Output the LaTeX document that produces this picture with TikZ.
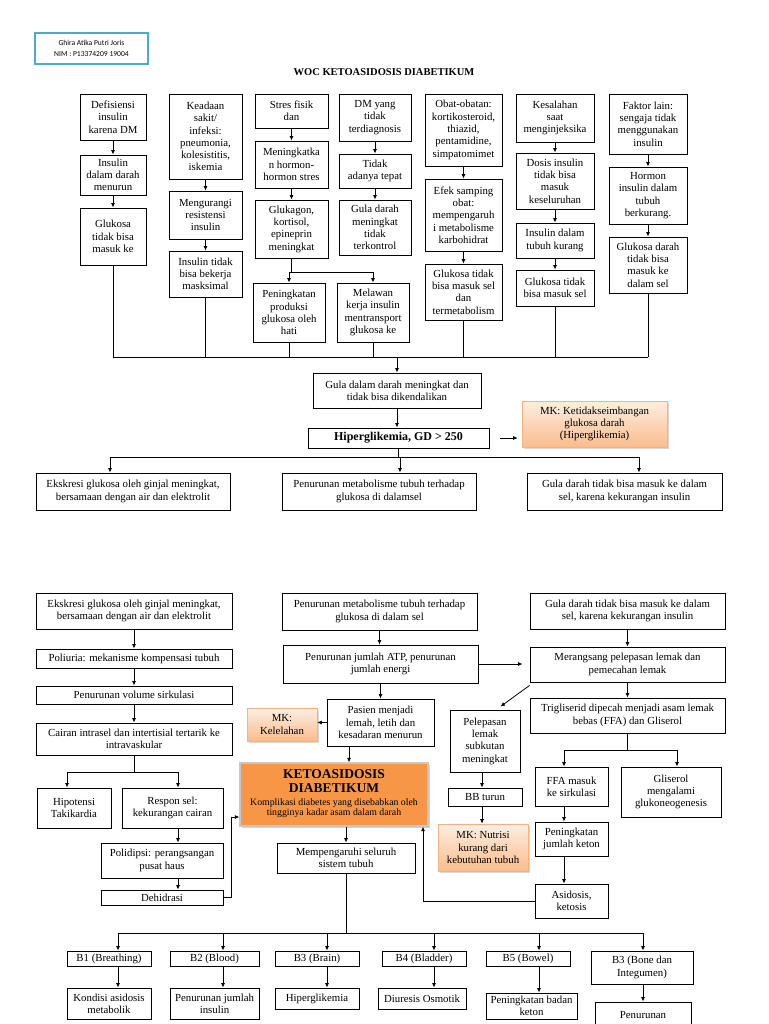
\documentclass[tikz,border=0pt]{standalone}
\usepackage{fontspec}
\setmainfont{Liberation Serif}
\newfontfamily\hdrfont{Carlito}
\usetikzlibrary{arrows.meta,shadows,calc}
\definecolor{keto}{HTML}{F79646}
\definecolor{mktop}{HTML}{FDEEE2}
\definecolor{mkbot}{HTML}{F9BD8C}
\definecolor{mkline}{HTML}{F3B27F}
\definecolor{hdrblue}{HTML}{4BACC6}
\newcommand\fsz{\fontsize{10.8}{12.3}\selectfont}
\newcommand\ktit{\fontsize{13.5}{14}\bfseries\selectfont}
\newcommand\ksub{\fontsize{9.8}{11}\mdseries\selectfont}
\newcommand\bx[7][]{%
  \pgfmathsetmacro\bxw{#5-#3}\pgfmathsetmacro\bxh{#6-#4}%
  \pgfmathsetmacro\bxcx{(#3+#5)/2}\pgfmathsetmacro\bxcy{(#4+#6)/2}%
  \node[box,minimum width=\bxw pt,minimum height=\bxh pt,#1] (#2) at (\bxcx,\bxcy) {#7};}
\begin{document}
\begin{tikzpicture}[x=1pt,y=-1pt,
  box/.style={draw,line width=0.9pt,fill=white,align=center,inner sep=0pt,font=\fsz},
  mk/.style={draw=mkline,line width=0.6pt,top color=mktop,bottom color=mkbot,
    drop shadow={shadow xshift=1.5pt,shadow yshift=-1.5pt,fill=black!30}},
  arr/.style={-{Latex[length=4.5pt,width=4pt]},line width=0.8pt},
  ln/.style={line width=0.8pt}]
\fill[white] (0,0) rectangle (768,1024);
\useasboundingbox (0,0) rectangle (768,1024);

% header
\node[draw=hdrblue,line width=1.4pt,minimum width=113pt,minimum height=31pt,inner sep=0pt,
  font=\hdrfont\fontsize{7.6}{11}\selectfont,align=center] (hdr) at (91.5,48.5)
  {Ghira Atika Putri Joris\\NIM : P13374209 19004};
\node[font=\bfseries\fontsize{10.5}{12}\selectfont] (title) at (384,72) {WOC KETOASIDOSIS DIABETIKUM};

% top row
\bx{a1}{80}{94}{146}{140}{Defisiensi\\insulin\\karena DM}
\bx{a2}{80}{155}{146}{195}{Insulin\\dalam darah\\menurun}
\bx{a3}{80}{208}{146}{265}{Glukosa\\tidak bisa\\masuk ke}

\bx{b1}{169}{94}{242}{179}{Keadaan\\sakit/\\infeksi:\\pneumonia,\\kolesistitis,\\iskemia}
\bx{b2}{169}{191}{242}{239}{Mengurangi\\resistensi\\insulin}
\bx{b3}{169}{251}{242}{297}{Insulin tidak\\bisa bekerja\\masksimal}

\bx{c1}{255}{94}{328}{128}{Stres fisik\\dan}
\bx{c2}{255}{141}{328}{188}{Meningkatka\\n hormon-\\hormon stres}
\bx{c3}{255}{200}{328}{258}{Glukagon,\\kortisol,\\epineprin\\meningkat}
\bx{c4}{253}{283}{325}{342}{Peningkatan\\produksi\\glukosa oleh\\hati}
\bx{c5}{337}{283}{409}{342}{Melawan\\kerja insulin\\mentransport\\glukosa ke}

\bx{d1}{339}{94}{411}{141}{DM yang\\tidak\\terdiagnosis}
\bx{d2}{339}{154}{411}{188}{Tidak\\adanya tepat}
\bx{d3}{339}{200}{411}{255}{Gula darah\\meningkat\\tidak\\terkontrol}

\bx{e1}{425}{94}{502}{166}{Obat-obatan:\\kortikosteroid,\\thiazid,\\pentamidine,\\simpatomimet}
\bx{e2}{425}{179}{502}{251}{Efek samping\\obat:\\mempengaruh\\i metabolisme\\karbohidrat}
\bx{e3}{425}{264}{502}{320}{Glukosa tidak\\bisa masuk sel\\dan\\termetabolism}

\bx{f1}{516}{94}{594}{142}{Kesalahan\\saat\\menginjeksika}
\bx{f2}{516}{153}{594}{209}{Dosis insulin\\tidak bisa\\masuk\\keseluruhan}
\bx{f3}{516}{223}{594}{258}{Insulin dalam\\tubuh kurang}
\bx{f4}{516}{270}{594}{306}{Glukosa tidak\\bisa masuk sel}

\bx{g1}{609}{94}{687}{154}{Faktor lain:\\sengaja tidak\\menggunakan\\insulin}
\bx{g2}{609}{167}{687}{224}{Hormon\\insulin dalam\\tubuh\\berkurang.}
\bx{g3}{609}{237}{687}{293}{Glukosa darah\\tidak bisa\\masuk ke\\dalam sel}

\foreach \p/\q in {a1/a2,a2/a3,b1/b2,b2/b3,c1/c2,c2/c3,d1/d2,d2/d3,e1/e2,e2/e3,f1/f2,f2/f3,f3/f4,g1/g2,g2/g3}
  \draw[arr] (\p.south) -- (\q.north);

\coordinate (cs) at (0,272);
\draw[ln] (c3.south) -- (c3.south |- cs);
\draw[ln] (c4.north |- cs) -- (c5.north |- cs);
\draw[arr] (c4.north |- cs) -- (c4.north);
\draw[arr] (c5.north |- cs) -- (c5.north);

% collecting line
\bx{h1}{313}{373}{481}{408}{Gula dalam darah meningkat dan\\tidak bisa dikendalikan}
\coordinate (cl) at (0,357);
\foreach \n in {a3,b3,c4,c5,e3,f4,g3} \draw[ln] (\n.south) -- (\n.south |- cl);
\draw[ln] (a3.south |- cl) -- (g3.south |- cl);
\draw[arr] (h1.north |- cl) -- (h1.north);

\bx[font=\bfseries\fontsize{12}{14}\selectfont]{h2}{308}{428}{489}{448}{Hiperglikemia, GD > 250}
\draw[arr] (h1.south) -- (h1.south |- h2.north);
\bx[mk]{mk1}{522}{401}{667}{447}{MK: Ketidakseimbangan\\glukosa darah\\(Hiperglikemia)}
\draw[arr,shorten <=11pt,shorten >=4pt] (h2.east) -- (h2.east -| mk1.west);

\bx{i1}{36}{473}{230}{510}{Ekskresi glukosa oleh ginjal meningkat,\\bersamaan dengan air dan elektrolit}
\bx{i2}{282}{473}{476}{510}{Penurunan metabolisme tubuh terhadap\\glukosa di dalamsel}
\bx{i3}{527}{473}{722}{510}{Gula darah tidak bisa masuk ke dalam\\sel, karena kekurangan insulin}
\coordinate (hs) at (0,457);
\coordinate (hs1) at (110,457);
\coordinate (hs2) at (400,457);
\coordinate (hs3) at (639,457);
\draw[ln] (h2.south) -- (h2.south |- hs);
\draw[ln] (hs1) -- (hs3);
\draw[arr] (hs1) -- (hs1 |- i1.north);
\draw[arr] (hs2) -- (hs2 |- i2.north);
\draw[arr] (hs3) -- (hs3 |- i3.north);

% ===== second part =====
\bx{j1}{36}{593}{232}{629}{Ekskresi glukosa oleh ginjal meningkat,\\bersamaan dengan air dan elektrolit}
\bx{j2}{36}{649}{232}{668}{Poliuria: mekanisme kompensasi tubuh}
\bx{j3}{36}{686}{232}{704}{Penurunan volume sirkulasi}
\bx{j4}{36}{723}{232}{755}{Cairan intrasel dan intertisial tertarik ke\\intravaskular}
\draw[arr] (j1.south) -- (j2.north);
\draw[arr] (j2.south) -- (j3.north);
\draw[arr] (j3.south) -- (j4.north);
\bx{j5}{37}{788}{111}{828}{Hipotensi\\Takikardia}
\bx{j6}{122}{788}{223}{828}{Respon sel:\\kekurangan cairan}
\bx{j7}{101}{843}{223}{878}{Polidipsi: perangsangan\\pusat haus}
\bx{j8}{101}{890}{223}{905}{Dehidrasi}
\coordinate (js) at (0,772);
\coordinate (js1) at (67,772);
\coordinate (js2) at (178,772);
\draw[ln] (j4.south) -- (j4.south |- js);
\draw[ln] (js1) -- (js2);
\draw[arr] (js1) -- (js1 |- j5.north);
\draw[arr] (js2) -- (js2 |- j6.north);
\draw[arr] (js2 |- j6.south) -- (js2 |- j7.north);
\draw[arr] (js2 |- j7.south) -- (js2 |- j8.north);

\bx[fill=keto,draw=black!22,line width=1.2pt,drop shadow={shadow xshift=2pt,shadow yshift=-2pt,fill=black!35}]{keto}{240}{763}{428}{826}{\begin{tabular}{@{}c@{}}\ktit KETOASIDOSIS\\[1.7pt]\ktit DIABETIKUM\\[0.5pt]\ksub Komplikasi diabetes yang disebabkan oleh\\[-1.8pt]\ksub tingginya kadar asam dalam darah\end{tabular}}
\coordinate (kin) at (231,817);
\draw[arr] (j8.east) -| (kin) -- (kin -| keto.west);

\bx{k1}{282}{593}{477}{630}{Penurunan metabolisme tubuh terhadap\\glukosa di dalam sel}
\bx{k2}{283}{645}{478}{683}{Penurunan jumlah ATP, penurunan\\jumlah energi}
\bx{k3}{327}{699}{434}{746}{Pasien menjadi\\lemah, letih dan\\kesadaran menurun}
\bx[mk]{mk2}{247}{708}{317}{741}{MK:\\Kelelahan}
\bx{k4}{277}{843}{415}{873}{Mempengaruhi seluruh\\sistem tubuh}
\draw[arr] (k1.south) -- (k1.south |- k2.north);
\draw[arr] (k2.south) -- (k2.south |- k3.north);
\draw[arr] (k3.west) -- (k3.west -| mk2.east);
\draw[arr] ([xshift=-31.5pt]k3.south) -- ([xshift=-31.5pt]k3.south |- keto.north);
\draw[arr] (k4.north |- keto.south) -- (k4.north);

\bx{l1}{530}{593}{725}{629}{Gula darah tidak bisa masuk ke dalam\\sel, karena kekurangan insulin}
\bx{l2}{530}{647}{725}{682}{Merangsang pelepasan lemak dan\\pemecahan lemak}
\bx{l3}{530}{698}{725}{733}{Trigliserid dipecah menjadi asam lemak\\bebas (FFA) dan Gliserol}
\draw[arr,shorten >=7pt] (k2.east) -- (k2.east -| l2.west);
\draw[arr] (l1.south) -- (l2.north);
\draw[arr] (l2.south) -- (l3.north);
\bx{l4}{450}{710}{520}{772}{Pelepasan\\lemak\\subkutan\\meningkat}
\draw[arr] ([yshift=-3pt]l2.south west) -- ([xshift=-20pt,yshift=3pt]l4.north east);
\bx{l5}{535}{767}{608}{806}{FFA masuk\\ke sirkulasi}
\bx{l6}{621}{767}{721}{817}{Gliserol\\mengalami\\glukoneogenesis}
\coordinate (ls) at (0,750);
\coordinate (ls1) at (564,750);
\coordinate (ls2) at (677,750);
\draw[ln] (l3.south) -- (l3.south |- ls);
\draw[ln] (ls1) -- (ls2);
\draw[arr] (ls1) -- (ls1 |- l5.north);
\draw[arr] (ls2) -- (ls2 |- l6.north);
\bx{l7}{535}{822}{608}{856}{Peningkatan\\jumlah keton}
\bx{l8}{535}{884}{608}{918}{Asidosis,\\ketosis}
\draw[arr] (ls1 |- l5.south) -- (ls1 |- l7.north);
\draw[arr] (ls1 |- l7.south) -- (ls1 |- l8.north);
\coordinate (kret) at (423,0);
\draw[arr] (l8.west) -| (kret |- keto.south);
\bx{l9}{448}{788}{522}{806}{BB turun}
\bx[mk]{mk3}{438}{824}{528}{871}{MK: Nutrisi\\kurang dari\\kebutuhan tubuh}
\coordinate (lb) at (482,0);
\draw[arr] (lb |- l4.south) -- (lb |- l9.north);
\draw[arr] (lb |- l9.south) -- (lb |- mk3.north);

% bottom B row
\bx{m1}{67}{951}{151}{966}{B1 (Breathing)}
\bx{m2}{170}{951}{259}{966}{B2 (Blood)}
\bx{m3}{275}{951}{359}{966}{B3 (Brain)}
\bx{m4}{382}{951}{466}{966}{B4 (Bladder)}
\bx{m5}{486}{951}{570}{966}{B5 (Bowel)}
\bx{m6}{591}{951}{693}{984}{B3 (Bone dan\\Integumen)}
\bx{n1}{67}{988}{151}{1019}{Kondisi asidosis\\metabolik}
\bx{n2}{170}{988}{259}{1019}{Penurunan jumlah\\insulin}
\bx{n3}{275}{988}{359}{1009}{Hiperglikemia}
\bx{n4}{378}{988}{466}{1009}{Diuresis Osmotik}
\bx{n5}{486}{993}{577}{1019}{Peningkatan badan\\keton}
\bx{n6}{595}{1002}{691}{1040}{Penurunan\\~}
\coordinate (bl) at (0,933);
\draw[ln] (k4.south) -- (k4.south |- bl);
\coordinate (bx1) at (118,933);
\coordinate (bx2) at (223,933);
\coordinate (bx3) at (327,933);
\coordinate (bx4) at (434,933);
\coordinate (bx5) at (539,933);
\coordinate (bx6) at (643,933);
\draw[ln] (bx1) -- (bx6);
\foreach \i in {1,...,6}{
  \draw[arr] (bx\i) -- (bx\i |- m\i.north);
  \draw[arr] (bx\i |- m\i.south) -- (bx\i |- n\i.north);
}
\end{tikzpicture}
\end{document}
